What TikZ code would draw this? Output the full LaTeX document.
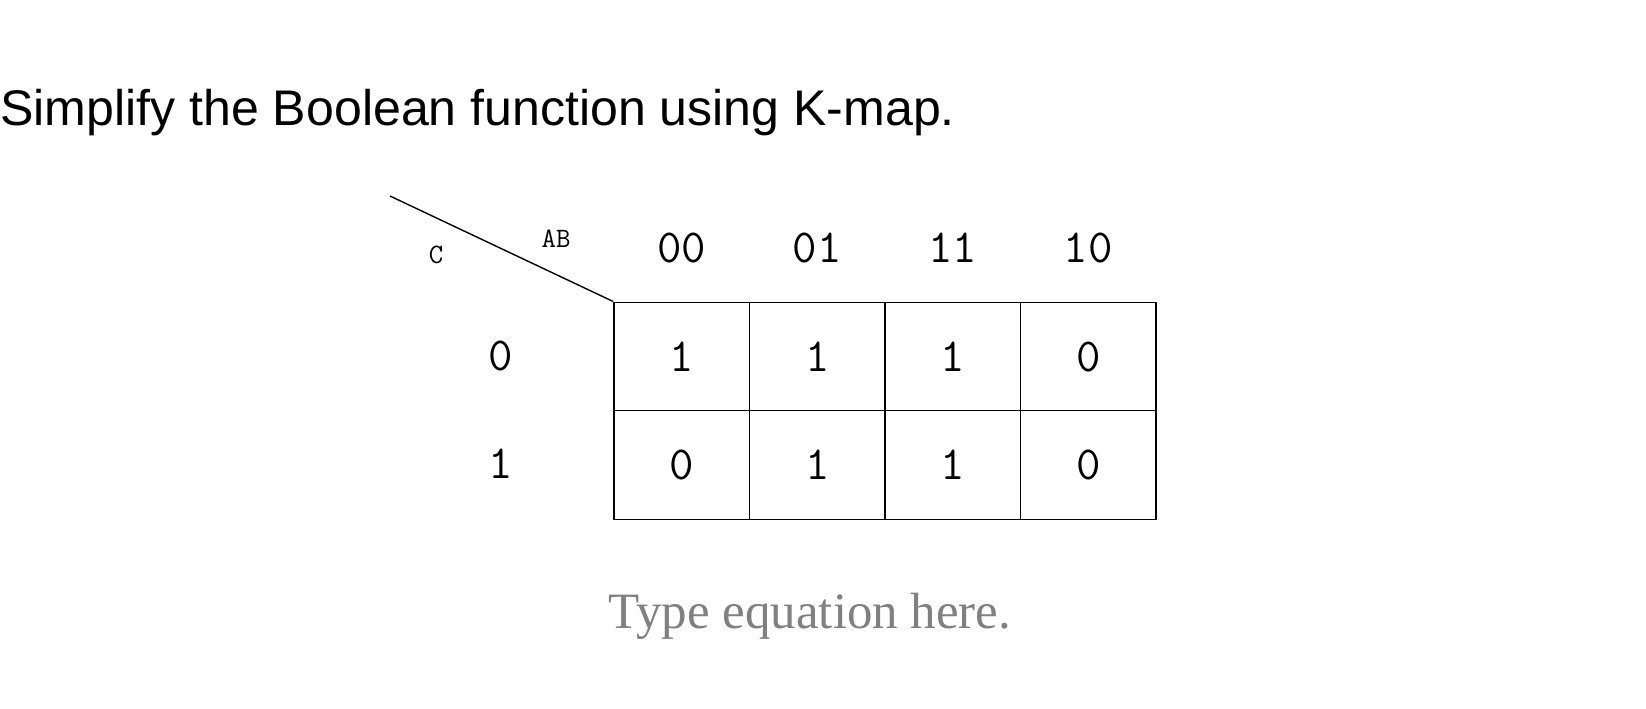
\documentclass[tikz,border=0pt]{standalone}
\usepackage{fontspec}
\setmainfont{Liberation Sans}
\newfontfamily\eqfont{Liberation Serif}
\usetikzlibrary{positioning}
\tikzset{
  cell/.style={draw,line width=0.8pt,minimum width=2.71cm,minimum height=2.17cm,inner sep=0pt,
    font=\ttfamily\fontsize{27}{27}\selectfont},
  lbl/.style={font=\ttfamily\fontsize{27}{27}\selectfont,inner sep=0pt},
  small/.style={font=\ttfamily\fontsize{16}{16}\selectfont,inner sep=0pt}
}
\begin{document}
\begin{tikzpicture}[x=0.02cm,y=-0.02cm]
  \useasboundingbox (0,0) rectangle (1646,708);
  \node[anchor=base west,inner sep=0pt,font=\fontsize{28.5}{28.5}\selectfont] (title) at (0,125) {Simplify the Boolean function using K-map.};
  % the map
  \foreach \v [count=\i from 0] in {1,1,1,0} {
    \node[cell] (r0c\i) at ({681.75+135.5*\i},356.5) {\v};
  }
  \foreach \v [count=\i from 0] in {0,1,1,0} {
    \node[cell] (r1c\i) at ({681.75+135.5*\i},465) {\v};
  }
  \foreach \t [count=\i from 0] in {00,01,11,10} {
    \node[lbl] (h\i) at ({681.75+135.5*\i},248) {\t};
  }
  \node[lbl] (row0) at (501,356) {0};
  \node[lbl] (row1) at (501,464) {1};
  \node[small] (ab) at (556,239) {AB};
  \node[small] (c) at (436,255) {C};
  \coordinate (diag) at (390,196);
  \draw[line width=0.8pt] (diag) -- (r0c0.north west);
  \node[anchor=base,inner sep=0pt,text=black!50,font=\eqfont\fontsize{29}{29}\selectfont] (eq) at (810,628) {Type equation here.};
\end{tikzpicture}
\end{document}
